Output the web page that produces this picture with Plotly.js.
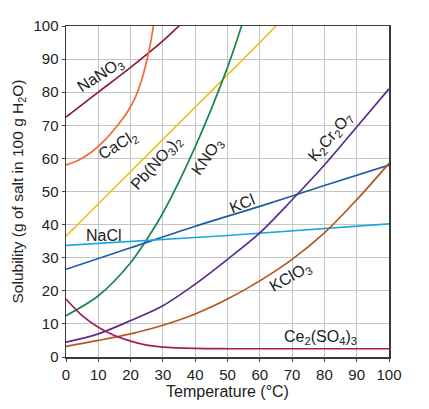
<!DOCTYPE html>
<html>
<head>
<meta charset="utf-8">
<script src="https://cdn.plot.ly/plotly-3.0.1.min.js"></script>
<style>
  html, body { margin: 0; padding: 0; background: #fff; }
  #chart { width: 429px; height: 409px; }
</style>
</head>
<body>
<div id="chart"></div>
<script>
// solubility curves (g salt per 100 g water)
const nano3T = [0, 10, 20, 30, 36];
const nano3S = [72.5, 80, 87.5, 95.5, 101];

const cacl2T = [0, 4, 8, 12, 16, 19, 21.5, 23.5, 25, 26.2, 27.2];
const cacl2S = [58, 59.5, 62, 65.5, 70, 74, 78.5, 84, 89.5, 95, 101];

const pbno3T = [0, 20, 40, 60, 66];
const pbno3S = [36.5, 56, 75.5, 95, 101];

const kno3T = [0, 10, 20, 25, 30, 40, 50, 55];
const kno3S = [12.5, 18.5, 28.5, 35.5, 43.5, 63.5, 87.5, 102];

const k2cr2o7T = [0, 10, 20, 30, 40, 50, 60, 70, 80, 90, 100];
const k2cr2o7S = [4.5, 7, 11, 15.5, 22, 29.5, 37.5, 47.5, 58, 69.5, 81];

const kclT = [0, 20, 40, 60, 80, 100];
const kclS = [26.5, 33, 39.5, 45.5, 51.8, 58];

const naclT = [0, 50, 100];
const naclS = [33.7, 36.7, 40.2];

const kclo3T = [0, 10, 20, 30, 40, 50, 60, 70, 80, 90, 100];
const kclo3S = [3.2, 5, 7, 9.6, 13, 17.5, 23, 29.5, 37.5, 47.5, 58.5];

const ce2so43T = [0, 5, 10, 15, 20, 25, 30, 40, 50, 100];
const ce2so43S = [17.5, 12.5, 9, 6.5, 4.8, 3.6, 3, 2.6, 2.5, 2.5];

const tickVals = [0, 10, 20, 30, 40, 50, 60, 70, 80, 90, 100];

function curve(x, y, color) {
    return {
        x: x,
        y: y,
        type: 'scatter',
        mode: 'lines',
        line: { color: color, width: 1.7, shape: 'spline', smoothing: 0.9 },
        hoverinfo: 'skip',
    };
}

const data = [
    curve(nano3T, nano3S, '#8e1a3e'),
    curve(cacl2T, cacl2S, '#f26a3b'),
    curve(pbno3T, pbno3S, '#f8bd2f'),
    curve(kno3T, kno3S, '#17884a'),
    curve(kclT, kclS, '#1e5ba6'),
    curve(naclT, naclS, '#1ea6e2'),
    curve(k2cr2o7T, k2cr2o7S, '#5a2c8c'),
    curve(kclo3T, kclo3S, '#b5561c'),
    curve(ce2so43T, ce2so43S, '#a51c5c'),
];

// curve names placed in pixel space next to their lines
function label(text, px, py, angle) {
    return {
        text: text,
        xref: 'paper',
        yref: 'paper',
        x: (px - 66) / 323,
        y: (357 - py) / 331,
        xanchor: 'center',
        yanchor: 'middle',
        textangle: angle,
        showarrow: false,
        font: { family: 'Liberation Sans, Arial, sans-serif', size: 16, color: '#222' },
    };
}

const layout = {
    width: 429,
    height: 409,
    paper_bgcolor: '#fff',
    plot_bgcolor: '#fff',
    margin: { t: 26, r: 40, b: 52, l: 66 },
    showlegend: false,
    font: { family: 'Liberation Sans, Arial, sans-serif', size: 15, color: '#222' },

    xaxis: {
        range: [0, 100],
        tickvals: tickVals,
        ticks: 'outside',
        ticklen: 3,
        tickcolor: '#444',
        showgrid: true,
        gridcolor: '#c4c4c4',
        gridwidth: 1,
        showline: true,
        linecolor: '#3a3a3a',
        linewidth: 1.5,
        mirror: true,
        zeroline: false,
        tickfont: { size: 15 },
        title: { text: 'Temperature (°C)', font: { size: 16 }, standoff: 4 },
    },
    yaxis: {
        range: [0, 100],
        tickvals: tickVals,
        ticks: 'outside',
        ticklen: 3,
        tickcolor: '#444',
        showgrid: true,
        gridcolor: '#c4c4c4',
        gridwidth: 1,
        showline: true,
        linecolor: '#3a3a3a',
        linewidth: 1.5,
        mirror: true,
        zeroline: false,
        tickfont: { size: 15 },
        title: { text: 'Solubility (g of salt in 100 g H<sub>2</sub>O)', font: { size: 15.5 }, standoff: 6 },
    },

    annotations: [
        label('NaNO<sub>3</sub>', 100, 75, -33),
        label('CaCl<sub>2</sub>', 118, 145, -31),
        label('Pb(NO<sub>3</sub>)<sub>2</sub>', 156, 163, -48),
        label('KNO<sub>3</sub>', 207, 157, -55),
        label('K<sub>2</sub>Cr<sub>2</sub>O<sub>7</sub>', 330, 137, -50),
        label('KCl', 242, 203, -22),
        label('NaCl', 104, 235, 0),
        label('KClO<sub>3</sub>', 290, 277, -30),
        label('Ce<sub>2</sub>(SO<sub>4</sub>)<sub>3</sub>', 320, 337, 0),
    ],
};

const config = {
    responsive: false,
    displayModeBar: false,
    staticPlot: true,
};

Plotly.newPlot('chart', data, layout, config);
</script>
</body>
</html>
